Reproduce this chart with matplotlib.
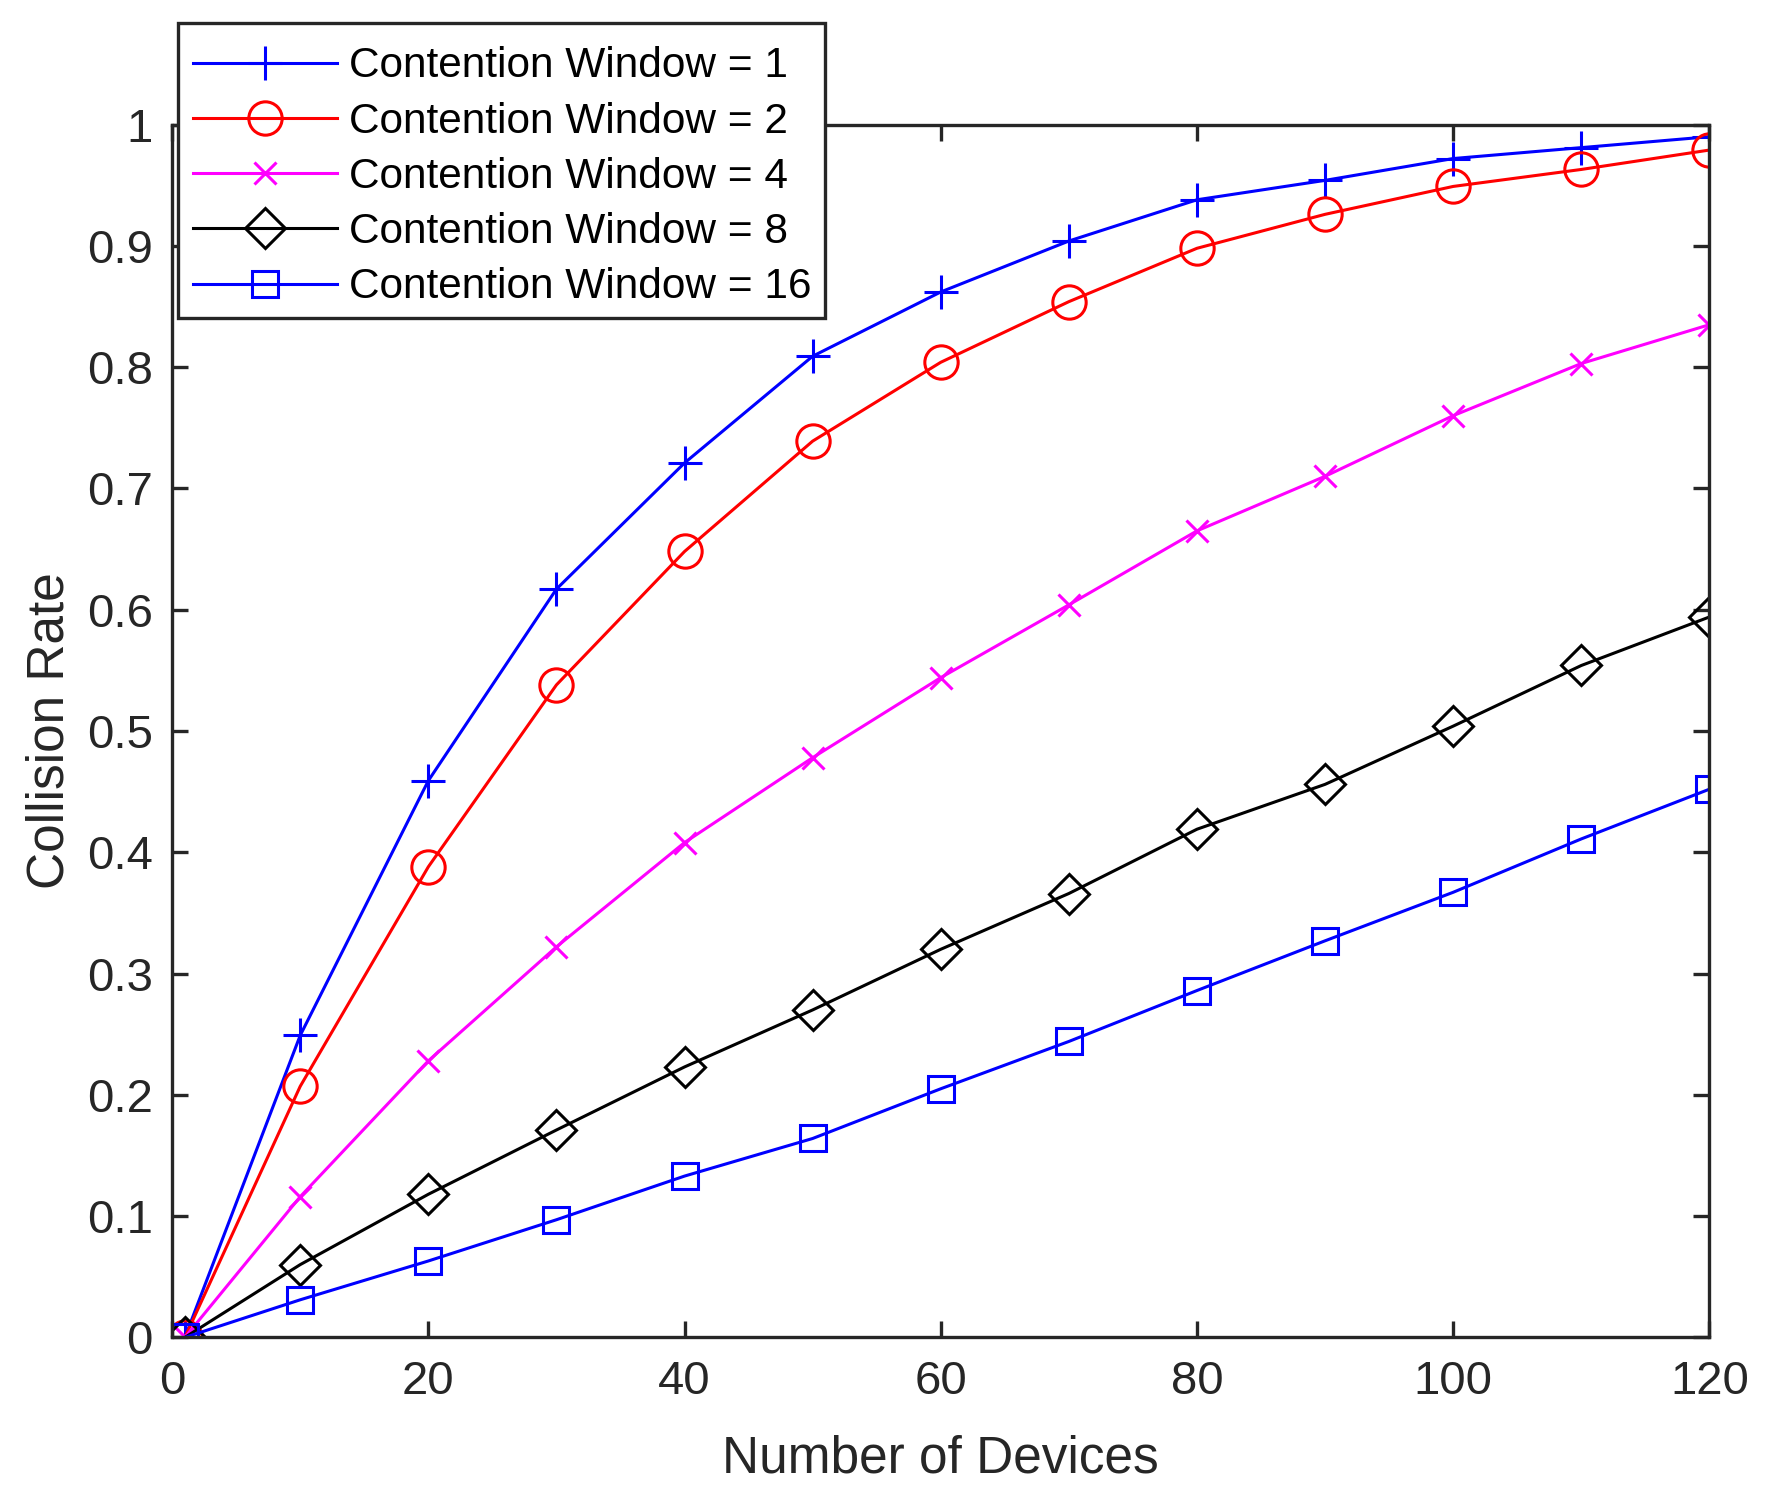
import matplotlib
matplotlib.use("Agg")
import matplotlib.pyplot as plt
from matplotlib.patches import Rectangle

plt.rcParams['font.family'] = ['Liberation Sans', 'DejaVu Sans']

# number of devices
devices = [1, 10, 20, 30, 40, 50, 60, 70, 80, 90, 100, 110, 120]

# collision rate per contention window
cw1 = [0, 0.249, 0.459, 0.617, 0.721, 0.809, 0.862, 0.904, 0.938, 0.954, 0.972, 0.981, 0.990]
cw2 = [0, 0.207, 0.388, 0.538, 0.648, 0.739, 0.804, 0.854, 0.898, 0.926, 0.949, 0.963, 0.979]
cw4 = [0, 0.116, 0.228, 0.322, 0.408, 0.478, 0.544, 0.604, 0.665, 0.710, 0.760, 0.803, 0.835]
cw8 = [0, 0.060, 0.118, 0.171, 0.223, 0.270, 0.320, 0.366, 0.419, 0.456, 0.504, 0.554, 0.594]
cw16 = [0, 0.031, 0.063, 0.097, 0.133, 0.164, 0.205, 0.244, 0.286, 0.327, 0.367, 0.411, 0.452]

labels = ["Contention Window = 1", "Contention Window = 2", "Contention Window = 4",
          "Contention Window = 8", "Contention Window = 16"]

axcol = "#262626"

fig = plt.figure(figsize=(17.67, 15.01), dpi=100)
ax = fig.add_axes([0.0974, 0.109, 0.870, 0.808])

lw = 2.2
ax.plot(devices, cw1, color="#0000ff", marker="+", markersize=25, markeredgewidth=lw, linewidth=lw, label=labels[0])
ax.plot(devices, cw2, color="#ff0000", marker="o", markersize=24, markerfacecolor="none", markeredgewidth=lw, linewidth=lw, label=labels[1])
ax.plot(devices, cw4, color="#ff00ff", marker="x", markersize=16, markeredgewidth=lw, linewidth=lw, label=labels[2])
ax.plot(devices, cw8, color="black", marker="D", markersize=20, markerfacecolor="none", markeredgewidth=lw, linewidth=lw, label=labels[3])
ax.plot(devices, cw16, color="#0000ff", marker="s", markersize=19, markerfacecolor="none", markeredgewidth=lw, linewidth=lw, label=labels[4])

ax.set_xlim(0, 120)
ax.set_ylim(0, 1)
ax.set_xticks([0, 20, 40, 60, 80, 100, 120])
ax.set_yticks([0, 0.1, 0.2, 0.3, 0.4, 0.5, 0.6, 0.7, 0.8, 0.9, 1])
ax.set_yticklabels(["0", "0.1", "0.2", "0.3", "0.4", "0.5", "0.6", "0.7", "0.8", "0.9", "1"])

ax.tick_params(direction="in", length=11.5, width=2.4, top=True, right=True,
               labelsize=34, colors=axcol)
ax.tick_params(axis="x", pad=16)
ax.tick_params(axis="y", pad=14)
for s in ax.spines.values():
    s.set_linewidth(2.4)
    s.set_color(axcol)

ax.set_xlabel("Number of Devices", fontsize=37, color=axcol, labelpad=22)
ax.set_ylabel("Collision Rate", fontsize=37, color=axcol, labelpad=9)

# legend box sticks out above the axes, like the original
box = Rectangle((0.1006, 0.788), 0.3661, 0.1969, transform=fig.transFigure,
                facecolor="white", edgecolor=axcol, linewidth=2.4, zorder=4)
fig.patches.append(box)

handles, _ = ax.get_legend_handles_labels()
leg = fig.legend(handles, labels, loc="upper left", bbox_to_anchor=(0.1006, 0.979),
                 borderaxespad=0, fontsize=30.5, handlelength=3.4, handletextpad=0.3,
                 labelspacing=0.36, borderpad=0.35, frameon=False)
leg.set_zorder(5)

fig.savefig("out.png", dpi=100)
